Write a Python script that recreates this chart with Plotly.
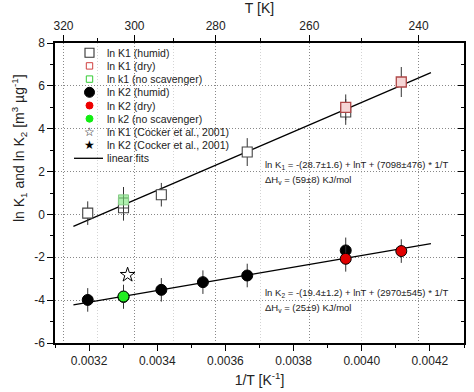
import plotly.graph_objects as go

# ---------------- data ----------------
k1_humid_x = [0.003196, 0.003301, 0.003301, 0.003412, 0.003664, 0.003953]
k1_humid_y = [0.06, 0.31, 0.53, 0.92, 2.91, 4.78]
k1_humid_err = [0.55, 0.6, 0.6, 0.55, 0.65, 0.6]

k1_dry_x = [0.003953, 0.004116]
k1_dry_y = [5.0, 6.18]
k1_dry_err = [0.6, 0.7]

k1_nosc_x = [0.003301]
k1_nosc_y = [0.68]
k1_nosc_err = [0.6]

k2_humid_x = [0.003196, 0.003301, 0.003412, 0.003534, 0.003664, 0.003953]
k2_humid_y = [-3.99, -3.85, -3.52, -3.16, -2.85, -1.68]
k2_humid_err = [0.55, 0.55, 0.55, 0.55, 0.55, 0.6]

k2_dry_x = [0.003953, 0.004116]
k2_dry_y = [-2.07, -1.71]
k2_dry_err = [0.6, 0.55]

k2_nosc_x = [0.003301]
k2_nosc_y = [-3.83]
k2_nosc_err = [0.55]

k1_cocker_x = [0.003313]
k1_cocker_y = [-2.82]
k2_cocker_x = []
k2_cocker_y = []

fit_x = [0.003154, 0.004203]
fit1_y = [-0.56, 6.62]
fit2_y = [-4.22, -1.36]

x_tick_vals = [0.0032, 0.0034, 0.0036, 0.0038, 0.0040, 0.0042]
x_tick_text = ["0.0032", "0.0034", "0.0036", "0.0038", "0.0040", "0.0042"]
y_tick_vals = [-6, -4, -2, 0, 2, 4, 6, 8]
y_tick_text = ["-6", "-4", "-2", "0", "2", "4", "6", "8"]
top_T_major = [320, 300, 280, 260, 240]
top_T_minor = [310, 290, 270, 250]

legend_labels = ["ln K1 (humid)", "ln K1 (dry)", "ln k1 (no scavenger)",
                 "ln K2 (humid)", "ln K2 (dry)", "ln k2 (no scavenger)",
                 "ln K1 (Cocker et al., 2001)", "ln K2 (Cocker et al., 2001)",
                 "linear fits"]

eq1 = "ln K<sub>1</sub> = -(28.7±1.6) + lnT + (7098±476) * 1/T"
eq1b = "ΔH<sub>v</sub> = (59±8) KJ/mol"
eq2 = "ln K<sub>2</sub> = -(19.4±1.2) + lnT + (2970±545) * 1/T"
eq2b = "ΔH<sub>v</sub> = (25±9) KJ/mol"

# ---------------- figure ----------------
FONT = "Liberation Sans, Arial, sans-serif"
W, H = 474, 392
L, R, T, B = 55, 10, 43, 49
PW, PH = W - L - R, H - T - B

def px2paper(px, py):
    return (px - L) / PW, (H - B - py) / PH

fig = go.Figure()

err_style = dict(type="data", thickness=1, width=0, color="#333333")

fig.add_trace(go.Scatter(x=fit_x, y=fit1_y, mode="lines", name="linear fits",
                         line=dict(color="black", width=1.3), showlegend=False))
fig.add_trace(go.Scatter(x=fit_x, y=fit2_y, mode="lines", name="linear fits",
                         line=dict(color="black", width=1.3), showlegend=False))

def pts(x, y, err, name, symbol, size, fill, edge, lw=1.0):
    kw = {}
    if err is not None:
        kw["error_y"] = dict(array=err, **err_style)
    fig.add_trace(go.Scatter(x=x, y=y, mode="markers", name=name, showlegend=False,
                             marker=dict(symbol=symbol, size=size, color=fill,
                                         line=dict(color=edge, width=lw)), **kw))

pts(k1_humid_x, k1_humid_y, k1_humid_err, "ln K1 (humid)", "square", 10, "white", "#444444", 1.1)
pts(k1_nosc_x, k1_nosc_y, k1_nosc_err, "ln k1 (no scavenger)", "square", 10, "rgba(120,230,120,0.6)", "#88cc88", 1.0)
pts(k1_dry_x, k1_dry_y, k1_dry_err, "ln K1 (dry)", "square", 10, "#f6d6d6", "#b04848", 1.3)
pts(k2_humid_x, k2_humid_y, k2_humid_err, "ln K2 (humid)", "circle", 11, "black", "black", 1.0)
pts(k2_dry_x, k2_dry_y, k2_dry_err, "ln K2 (dry)", "circle", 11, "#e00000", "black", 1.0)
pts(k2_nosc_x, k2_nosc_y, k2_nosc_err, "ln k2 (no scavenger)", "circle", 11, "#22ee22", "black", 1.0)
pts(k1_cocker_x, k1_cocker_y, None, "ln K1 (Cocker et al., 2001)", "star-open", 11, "black", "black", 1.0)
pts(k2_cocker_x, k2_cocker_y, None, "ln K2 (Cocker et al., 2001)", "star", 11, "black", "black", 1.0)

# empty traces to activate the top and right axes
fig.add_trace(go.Scatter(x=[], y=[], xaxis="x2", yaxis="y", showlegend=False, hoverinfo="skip"))
fig.add_trace(go.Scatter(x=[], y=[], xaxis="x", yaxis="y2", showlegend=False, hoverinfo="skip"))

xr = [0.0031, 0.0043]
yr = [-6, 8]
tickfont = dict(family=FONT, size=12, color="#222222")
DOT = "1px,2px"

fig.update_layout(
    width=W, height=H,
    margin=dict(l=L, r=R, t=T, b=B, autoexpand=False),
    paper_bgcolor="white", plot_bgcolor="white",
    showlegend=False,
    font=dict(family=FONT, color="#222222"),
    xaxis=dict(range=xr, tickmode="array", tickvals=x_tick_vals, ticktext=x_tick_text,
               automargin=False,
               ticks="outside", ticklen=6, tickwidth=1.2, tickcolor="black",
               showline=True, linecolor="black", linewidth=1.5, mirror=False,
               showgrid=False, zeroline=False, tickfont=tickfont,
               minor=dict(tickmode="linear", tick0=0.0031, dtick=0.0001, ticks="outside",
                          ticklen=3, tickcolor="black", showgrid=False),
               title=dict(text="1/T [K<sup>-1</sup>]", font=dict(family=FONT, size=14), standoff=8)),
    xaxis2=dict(range=xr, overlaying="x", side="top", tickmode="array", automargin=False,
                tickvals=[1.0 / t for t in top_T_major], ticktext=[str(t) for t in top_T_major],
                ticks="outside", ticklen=6, tickwidth=1.2, tickcolor="black",
                showline=True, linecolor="black", linewidth=1.5,
                showgrid=True, gridcolor="#888888", griddash=DOT, gridwidth=1,
                zeroline=False, tickfont=tickfont,
                minor=dict(tickmode="array", tickvals=[1.0 / t for t in top_T_minor],
                           ticks="outside", ticklen=3, tickcolor="black",
                           showgrid=True, gridcolor="#d4d4d4", gridwidth=1),
                title=dict(text="T [K]", font=dict(family=FONT, size=14), standoff=4)),
    yaxis=dict(range=yr, tickmode="array", tickvals=y_tick_vals, ticktext=y_tick_text,
               automargin=False,
               ticks="outside", ticklen=6, tickwidth=1.2, tickcolor="black",
               showline=True, linecolor="black", linewidth=1.5,
               showgrid=True, gridcolor="#888888", griddash=DOT, gridwidth=1,
               zeroline=False, tickfont=tickfont,
               minor=dict(tickmode="linear", tick0=-6, dtick=1, ticks="outside",
                          ticklen=3, tickcolor="black", showgrid=False)),
    yaxis2=dict(range=yr, overlaying="y", side="right", tickmode="array", tickvals=y_tick_vals,
                automargin=False,
                ticks="inside", ticklen=6, tickwidth=1.2, tickcolor="black",
                showticklabels=False, showline=True, linecolor="black", linewidth=1.5,
                showgrid=False, zeroline=False,
                minor=dict(tickmode="linear", tick0=-6, dtick=1, ticks="inside",
                           ticklen=3, tickcolor="black", showgrid=False)),
)

annotations = []
# y-axis title
ax_, ay_ = px2paper(19, 148)
annotations.append(dict(x=ax_, y=ay_, xref="paper", yref="paper", showarrow=False,
                        textangle=-90, xanchor="center", yanchor="middle",
                        text="ln K<sub>1</sub> and ln K<sub>2</sub> [m<sup>3</sup> µg<sup>-1</sup>]",
                        font=dict(family=FONT, size=14, color="#222222")))

# equations
for txt, py in [(eq1, 165), (eq1b, 180), (eq2, 292.5), (eq2b, 307.5)]:
    ex, ey = px2paper(263, py)
    annotations.append(dict(x=ex, y=ey, xref="paper", yref="paper", showarrow=False,
                            xanchor="left", yanchor="middle", text=txt,
                            font=dict(family=FONT, size=9.5, color="#222222")))

# manual legend
row_y = [52.7 + 13.2 * i for i in range(len(legend_labels))]
sym_x = 89.5
txt_x = 105
shapes = []
sym_styles = [
    ("rect", 4.5, "white", "#333333", 1.1),
    ("rect", 3.2, "white", "#d04040", 1.0),
    ("rect", 3.2, "white", "#33cc33", 1.0),
    ("circle", 5.0, "black", "black", 1.0),
    ("circle", 3.5, "#ee0000", "#ee0000", 1.0),
    ("circle", 3.5, "#11ee11", "#11ee11", 1.0),
]
for i, lab in enumerate(legend_labels):
    lx, ly = px2paper(txt_x, row_y[i])
    annotations.append(dict(x=lx, y=ly, xref="paper", yref="paper", showarrow=False,
                            xanchor="left", yanchor="middle", text=lab,
                            font=dict(family=FONT, size=10.5, color="#222222")))
    sx, sy = px2paper(sym_x, row_y[i])
    if i < 6:
        kind, r, fc, lc, lw = sym_styles[i]
        shapes.append(dict(type=kind, xref="paper", yref="paper",
                           xsizemode="pixel", ysizemode="pixel", xanchor=sx, yanchor=sy,
                           x0=-r, x1=r, y0=-r, y1=r, fillcolor=fc,
                           line=dict(color=lc, width=lw)))
    elif i in (6, 7):
        annotations.append(dict(x=sx, y=sy, xref="paper", yref="paper", showarrow=False,
                                xanchor="center", yanchor="middle",
                                text="☆" if i == 6 else "★",
                                font=dict(family="DejaVu Sans", size=12, color="black")))
    else:
        x0p, _ = px2paper(74, row_y[i])
        x1p, _ = px2paper(103, row_y[i])
        shapes.append(dict(type="line", xref="paper", yref="paper", x0=x0p, x1=x1p,
                           y0=sy, y1=sy, line=dict(color="black", width=1.3)))

fig.update_layout(annotations=annotations, shapes=shapes)
fig.write_html("out.html", config={"displayModeBar": False},
               post_script="document.body.style.margin='0';document.body.style.padding='0';")
